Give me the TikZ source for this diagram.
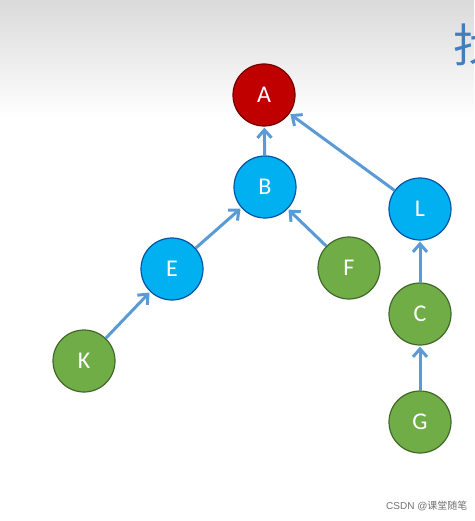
\documentclass[tikz,border=0pt]{standalone}
\usepackage{fontspec}
\setmainfont{Carlito}
\newfontfamily\cjk{Noto Sans CJK SC}
\usetikzlibrary{arrows.meta,shadings}
\definecolor{nred}{HTML}{C00000}
\definecolor{nblue}{HTML}{00B0F0}
\definecolor{ngreen}{HTML}{70AD47}
\definecolor{eline}{HTML}{5B9BD5}
\definecolor{titleblue}{HTML}{3F7FC0}
\tikzset{
  vtx/.style={circle, minimum size=62pt, inner sep=0pt, line width=1.2pt, text=white, font=\fontsize{24}{24}\selectfont},
  redv/.style={vtx, fill=nred, draw=nred!60!black},
  bluev/.style={vtx, fill=nblue, draw=nblue!60!black!80!blue},
  greenv/.style={vtx, fill=ngreen, draw=ngreen!60!black},
  edge/.style={draw=eline, line width=3pt, -{Straight Barb[length=8pt,width=14pt,line width=3pt]}, shorten >=1pt}
}
\begin{document}
\begin{tikzpicture}[x=1pt,y=-1pt]
\useasboundingbox (0,0) rectangle (474,521);
\fill[white] (0,0) rectangle (474,521);
\shade[top color={rgb,255:red,218;green,218;blue,218}, bottom color=white] (0,0) rectangle (474,118);
\begin{scope}
\clip (0,0) rectangle (474,521);
\node[text=titleblue, font=\cjk\fontsize{46}{46}\selectfont, anchor=west] (title) at (450,45) {找};
\end{scope}
\node[redv] (A) at (264,95) {A};
\node[bluev] (B) at (265,187) {B};
\node[bluev] (L) at (420,209) {L};
\node[bluev] (E) at (172,269) {E};
\node[greenv] (F) at (349,268) {F};
\node[greenv] (K) at (84,361) {K};
\node[greenv] (C) at (420,314) {C};
\node[greenv] (G) at (420,422) {G};
\draw[edge] (B) -- (A);
\draw[edge] (L) -- (A);
\draw[edge] (E) -- (B);
\draw[edge] (F) -- (B);
\draw[edge] (K) -- (E);
\draw[edge] (C) -- (L);
\draw[edge] (G) -- (C);
\node[anchor=east, text=black!55, font=\fontsize{10}{10}\selectfont] (wm) at (471,506) {\fontspec{Liberation Sans}CSDN @{\cjk 课堂随笔}};
\end{tikzpicture}
\end{document}
